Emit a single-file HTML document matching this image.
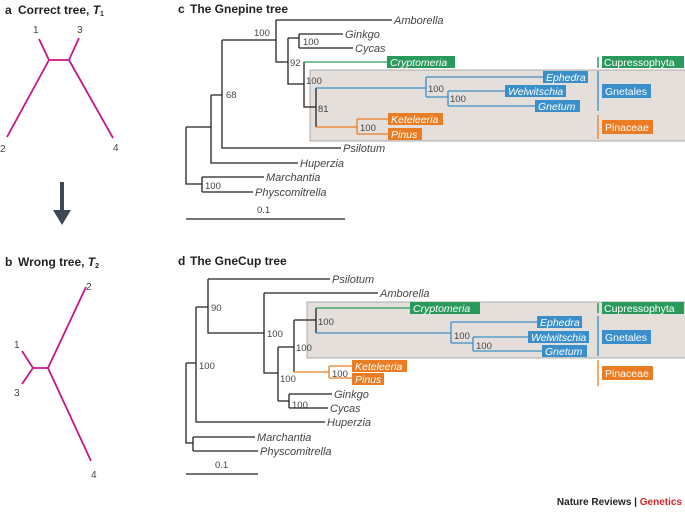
<!DOCTYPE html><html><head><style>body{margin:0;background:#fff}svg text{font-family:"Liberation Sans",sans-serif}</style></head><body>
<svg width="685" height="510" viewBox="0 0 685 510" xmlns="http://www.w3.org/2000/svg">
<g font-size="12" font-weight="bold" fill="#222">
<text x="5" y="14">a</text><text x="18" y="14">Correct tree, <tspan font-style="italic">T</tspan><tspan font-size="7" dy="2">1</tspan></text>
<text x="5" y="266">b</text><text x="18" y="266">Wrong tree, <tspan font-style="italic">T</tspan><tspan font-size="7" dy="2">2</tspan></text>
<text x="178" y="13">c</text><text x="190" y="13">The Gnepine tree</text>
<text x="178" y="265">d</text><text x="190" y="265">The GneCup tree</text>
</g>
<g stroke="#c0188b" stroke-width="1.8" fill="none">
<path d="M39 39L49 60H69L79 38M49 60L7 137M69 60L113 138"/>
<path d="M22 351L33 368L22 384M33 368H48L86 287M48 368L91 461"/>
</g>
<g font-size="10" fill="#444">
<text x="33" y="33">1</text><text x="77" y="33">3</text><text x="0" y="152">2</text><text x="113" y="151">4</text>
<text x="14" y="348">1</text><text x="14" y="396">3</text><text x="86" y="290">2</text><text x="91" y="478">4</text>
</g>
<path d="M62 182V211" stroke="#3d4a55" stroke-width="4"/><path d="M53 210H71L62 225Z" fill="#3d4a55"/>

<rect x="310" y="70" width="376" height="71" fill="#e4dfda" stroke="#999" stroke-width="0.8"/>
<g stroke="#222" stroke-width="1.3" fill="none">
<path d="M276 20H392M276 20V62H288M222 40H276M222 40V148H341M288 38V84H304M288 38H299M299 34V48M299 34H343M299 48H353M304 62V107H316M316 88V127M211 95H222M211 95V163H298M186 127H211M186 127V184H202M202 177V192M202 177H264M202 192H253M186 219H345"/>
</g>
<path d="M304 62H387" stroke="#2a9a5c" stroke-width="1.3"/>
<g stroke="#3a8fcb" stroke-width="1.3" fill="none"><path d="M316 88H426M426 77V97M426 77H543M426 97H448M448 91V106M448 91H505M448 106H535M598 71V111"/></g>
<g stroke="#ea7d23" stroke-width="1.3" fill="none"><path d="M316 127H357M357 119V134M357 119H388M357 134H388M598 115V139"/></g>
<path d="M598 57V68" stroke="#2a9a5c" stroke-width="1.5"/>
<g font-size="11" fill="#444" font-style="italic">
<text x="394" y="24">Amborella</text><text x="345" y="38">Ginkgo</text><text x="355" y="52">Cycas</text>
<text x="343" y="152">Psilotum</text><text x="300" y="167">Huperzia</text><text x="266" y="181">Marchantia</text><text x="255" y="196">Physcomitrella</text>
</g>
<g font-size="9.5" fill="#444">
<text x="254" y="36">100</text><text x="303" y="45">100</text><text x="290" y="66">92</text><text x="306" y="84">100</text>
<text x="318" y="112">81</text><text x="428" y="92">100</text><text x="450" y="102">100</text><text x="360" y="131">100</text>
<text x="226" y="98">68</text><text x="205" y="189">100</text><text x="257" y="213">0.1</text>
</g>
<g font-size="10.5" fill="#fff">
<rect x="387" y="56" width="68" height="12" fill="#2a9a5c"/><text x="390" y="66" font-style="italic">Cryptomeria</text>
<rect x="543" y="71" width="45" height="12" fill="#3a8fcb"/><text x="546" y="81" font-style="italic">Ephedra</text>
<rect x="505" y="85" width="61" height="12" fill="#3a8fcb"/><text x="508" y="95" font-style="italic">Welwitschia</text>
<rect x="535" y="100" width="45" height="12" fill="#3a8fcb"/><text x="538" y="110" font-style="italic">Gnetum</text>
<rect x="388" y="113" width="55" height="12" fill="#ea7d23"/><text x="391" y="123" font-style="italic">Keteleeria</text>
<rect x="388" y="128" width="34" height="12" fill="#ea7d23"/><text x="391" y="138" font-style="italic">Pinus</text>
<rect x="602" y="56" width="82" height="12" fill="#2a9a5c"/><text x="604" y="66">Cupressophyta</text>
<rect x="602" y="84" width="49" height="14" fill="#3a8fcb"/><text x="605" y="95">Gnetales</text>
<rect x="602" y="120" width="51" height="14" fill="#ea7d23"/><text x="605" y="131">Pinaceae</text>
</g>

<rect x="307" y="302" width="379" height="56" fill="#e4dfda" stroke="#999" stroke-width="0.8"/>
<g stroke="#222" stroke-width="1.3" fill="none">
<path d="M208 279H330M208 279V333H264M264 293H378M264 293V373H278M278 347V401M278 347H294M294 320V372M294 320H316M316 308V333M278 401H289M289 394V408M289 394H332M289 408H328M196 307H208M196 307V422H325M186 363H196M186 363V443H193M193 437V451M193 437H255M193 451H258M186 474H258"/>
</g>
<path d="M316 308H410" stroke="#2a9a5c" stroke-width="1.3"/>
<g stroke="#3a8fcb" stroke-width="1.3" fill="none"><path d="M316 333H451M451 322V343M451 322H537M451 343H473M473 337V351M473 337H528M473 351H542M598 316V356"/></g>
<g stroke="#ea7d23" stroke-width="1.3" fill="none"><path d="M294 372H329M329 366V378M329 366H352M329 378H352M598 360V386"/></g>
<path d="M598 303V313" stroke="#2a9a5c" stroke-width="1.5"/>
<g font-size="11" fill="#444" font-style="italic">
<text x="332" y="283">Psilotum</text><text x="380" y="297">Amborella</text><text x="334" y="398">Ginkgo</text><text x="330" y="412">Cycas</text>
<text x="327" y="426">Huperzia</text><text x="257" y="441">Marchantia</text><text x="260" y="455">Physcomitrella</text>
</g>
<g font-size="9.5" fill="#444">
<text x="211" y="311">90</text><text x="267" y="337">100</text><text x="296" y="351">100</text><text x="318" y="325">100</text>
<text x="280" y="382">100</text><text x="454" y="339">100</text><text x="476" y="349">100</text><text x="332" y="377">100</text>
<text x="292" y="408">100</text><text x="199" y="369">100</text><text x="215" y="468">0.1</text>
</g>
<g font-size="10.5" fill="#fff">
<rect x="410" y="302" width="70" height="12" fill="#2a9a5c"/><text x="413" y="312" font-style="italic">Cryptomeria</text>
<rect x="537" y="316" width="45" height="12" fill="#3a8fcb"/><text x="540" y="326" font-style="italic">Ephedra</text>
<rect x="528" y="331" width="61" height="12" fill="#3a8fcb"/><text x="531" y="341" font-style="italic">Welwitschia</text>
<rect x="542" y="345" width="45" height="12" fill="#3a8fcb"/><text x="545" y="355" font-style="italic">Gnetum</text>
<rect x="352" y="360" width="55" height="12" fill="#ea7d23"/><text x="355" y="370" font-style="italic">Keteleeria</text>
<rect x="352" y="373" width="32" height="12" fill="#ea7d23"/><text x="355" y="383" font-style="italic">Pinus</text>
<rect x="602" y="302" width="82" height="12" fill="#2a9a5c"/><text x="604" y="312">Cupressophyta</text>
<rect x="602" y="330" width="49" height="14" fill="#3a8fcb"/><text x="605" y="341">Gnetales</text>
<rect x="602" y="366" width="51" height="14" fill="#ea7d23"/><text x="605" y="377">Pinaceae</text>
</g>
<text x="682" y="505" font-size="10" font-weight="bold" text-anchor="end" fill="#222">Nature Reviews | <tspan fill="#d7262b">Genetics</tspan></text>
</svg>
</body></html>
